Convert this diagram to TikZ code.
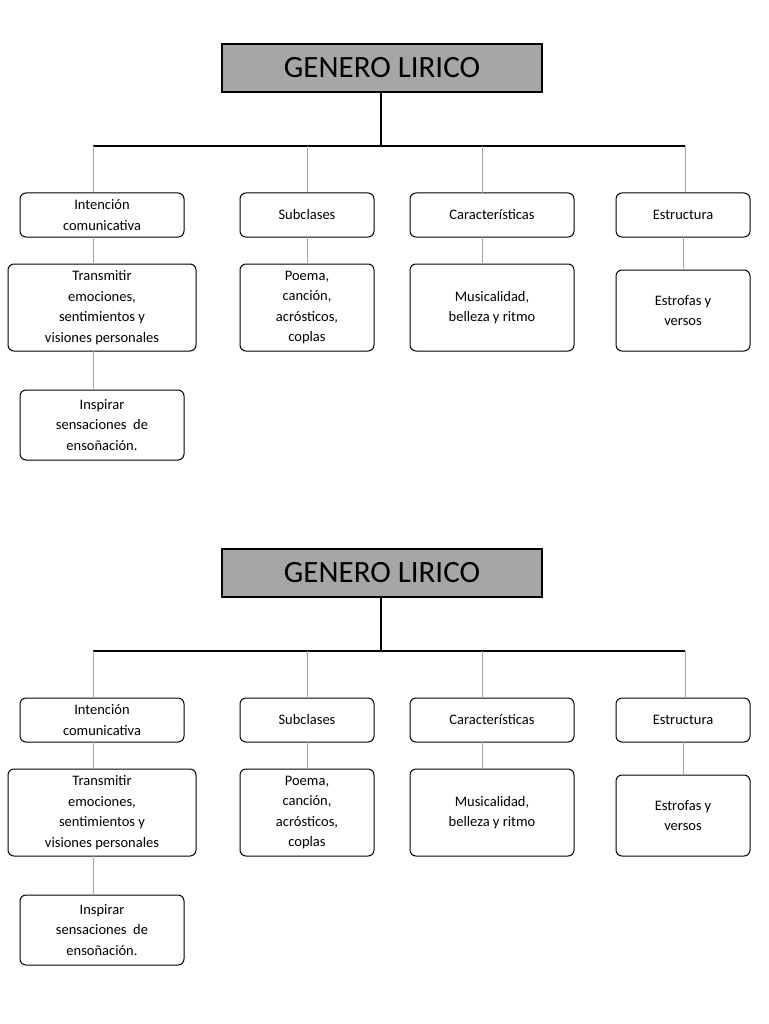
\documentclass[tikz,border=0pt]{standalone}
\usepackage{fontspec}
\setmainfont{Carlito}
\begin{document}
\begin{tikzpicture}[x=1pt,y=-1pt,
 box/.style={draw=black,line width=1pt,rounded corners=6pt,align=center,font=\fontsize{14.5}{20.5}\selectfont,inner sep=0pt},
 title/.style={draw=black,line width=1.2pt,fill=gray!70,font=\fontsize{31}{34}\selectfont,inner sep=0pt},
 thin/.style={draw=gray!70,line width=0.8pt},
 thick/.style={draw=black,line width=1.6pt}]
\useasboundingbox (0,0) rectangle (768,1024);
\foreach \o/\s in {0/a,505/b}{
\begin{scope}[yshift=-\o pt]
\node[title,minimum width=320pt,minimum height=48pt] (t\s) at (382,68) {GENERO LIRICO};
\coordinate (h\s) at (381,146);
\coordinate (l\s) at (93,146);
\coordinate (r\s) at (685,146);
\node[box,minimum width=164pt,minimum height=44pt] (i\s) at (102,215) {Intención\\comunicativa};
\node[box,minimum width=134pt,minimum height=44pt] (s\s) at (307,215) {Subclases};
\node[box,minimum width=164pt,minimum height=44pt] (c\s) at (492,215) {Características};
\node[box,minimum width=134pt,minimum height=44pt] (e\s) at (683,215) {Estructura};
\node[box,minimum width=188pt,minimum height=87pt] (i2\s) at (102,307.5) {Transmitir\\emociones,\\sentimientos y\\visiones personales};
\node[box,minimum width=134pt,minimum height=87pt] (s2\s) at (307,307.5) {Poema,\\canción,\\acrósticos,\\coplas};
\node[box,minimum width=164pt,minimum height=87pt] (c2\s) at (492,307.5) {Musicalidad,\\belleza y ritmo};
\node[box,minimum width=134pt,minimum height=81pt] (e2\s) at (683,310.5) {Estrofas y\\versos};
\node[box,minimum width=164pt,minimum height=70pt] (p\s) at (102,425) {Inspirar\\sensaciones\ \ de\\ensoñación.};
\draw[thick] (t\s.south -| h\s) -- (h\s);
\draw[thick] (l\s) -- (r\s);
\draw[thin] (l\s) -- (l\s |- i\s.north);
\draw[thin] (307,146) -- (s\s.north);
\draw[thin] (482,146) -- (482,193);
\draw[thin] (r\s) -- (r\s |- e\s.north);
\draw[thin] (93,237) -- (93,264);
\draw[thin] (s\s) ++(0,22) -- (s2\s.north);
\draw[thin] (482,237) -- (482,264);
\draw[thin] (683,237) -- (683,270);
\draw[thin] (93,351) -- (93,390);
\end{scope}}
\end{tikzpicture}
\end{document}
